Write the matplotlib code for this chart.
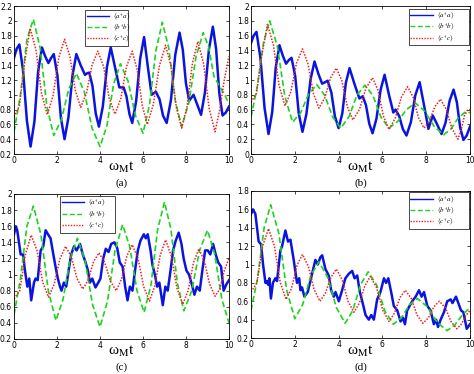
import matplotlib
matplotlib.use("Agg")
import matplotlib.pyplot as plt
from matplotlib.ticker import FixedLocator, FixedFormatter

plt.rcParams['mathtext.fontset'] = 'stix'
plt.rcParams['font.family'] = ['DejaVu Sans']

# ---------------- data ----------------
# panel (a)
a_blue_t = [0, 0.12, 0.25, 0.42, 0.6, 0.77, 0.95, 1.12, 1.3, 1.45, 1.6, 1.73, 1.85, 2.02, 2.18, 2.35,
            2.53, 2.72, 2.9, 3.1, 3.3, 3.4, 3.5, 3.65, 3.8, 3.95, 4.13, 4.32, 4.5, 4.7, 4.9, 5.1,
            5.23, 5.37, 5.5, 5.68, 5.87, 6.05, 6.22, 6.4, 6.6, 6.77, 6.93, 7.1, 7.3, 7.5, 7.7,
            7.85, 8.0, 8.15, 8.35, 8.52, 8.7, 8.88, 9.07, 9.25, 9.4, 9.55, 9.7, 9.85, 10]
a_blue_v = [1.5, 1.62, 1.68, 1.33, 0.65, 0.3, 0.64, 1.31, 1.64, 1.52, 1.43, 1.5, 1.55, 1.26, 0.69, 0.4,
            0.69, 1.26, 1.55, 1.40, 1.27, 1.29, 1.3, 1.12, 0.75, 0.57, 0.84, 1.37, 1.64, 1.37, 1.1, 1.1,
            0.98, 0.74, 0.62, 0.91, 1.49, 1.78, 1.39, 1.0, 1.04, 0.94, 0.72, 0.62, 0.93, 1.54, 1.84,
            1.61, 1.15, 0.92, 1.0, 0.87, 0.73, 1.03, 1.62, 1.92, 1.62, 1.02, 0.72, 0.76, 0.84]
a_green_t = [0, 0.3, 0.6, 0.9, 1.22, 1.53, 1.85, 2.2, 2.55, 2.9, 3.27, 3.63, 4.0, 4.32, 4.63, 4.95,
             5.3, 5.65, 6.0, 6.3, 6.6, 6.9, 7.2, 7.5, 7.8, 8.13, 8.47, 8.8, 9.05, 9.3, 9.55, 9.8, 10]
a_green_v = [0.5, 1.0, 1.75, 2.02, 1.63, 0.84, 0.45, 0.66, 1.08, 1.29, 1.04, 0.55, 0.30, 0.58, 1.14, 1.42,
             1.19, 0.72, 0.48, 0.86, 1.6, 1.98, 1.63, 0.92, 0.57, 0.89, 1.52, 1.84, 1.65, 1.25, 1.12, 1.0, 0.88]
a_red_t = [0, 0.25, 0.5, 0.75, 1.02, 1.28, 1.55, 1.82, 2.08, 2.35, 2.6, 2.85, 3.1, 3.37, 3.63, 3.9,
           4.17, 4.43, 4.7, 4.97, 5.23, 5.5, 5.73, 5.97, 6.2, 6.48, 6.77, 7.05, 7.3, 7.55, 7.8,
           8.05, 8.3, 8.55, 8.82, 9.08, 9.35, 9.57, 9.78, 10]
a_red_v = [0.7, 0.85, 1.45, 1.9, 1.61, 1.02, 0.73, 0.99, 1.50, 1.75, 1.52, 1.06, 0.83, 1.02, 1.40, 1.59,
           1.38, 0.95, 0.74, 0.95, 1.38, 1.59, 1.34, 0.85, 0.6, 0.87, 1.40, 1.67, 1.39, 0.83, 0.55,
           0.84, 1.43, 1.72, 1.42, 0.81, 0.5, 0.8, 1.2, 1.52]

# panel (b)
b_blue_t = [0, 0.12, 0.25, 0.43, 0.62, 0.8, 0.97, 1.13, 1.3, 1.45, 1.6, 1.73, 1.85, 2.02, 2.18, 2.35,
            2.53, 2.72, 2.9, 3.08, 3.25, 3.38, 3.5, 3.67, 3.83, 4.0, 4.17, 4.33, 4.5, 4.72, 4.95, 5.1,
            5.25, 5.4, 5.55, 5.73, 5.92, 6.1, 6.3, 6.5, 6.6, 6.77, 6.93, 7.1, 7.3, 7.5, 7.7, 7.9,
            8.1, 8.3, 8.5, 8.7, 8.88, 9.07, 9.25, 9.4, 9.55, 9.7, 9.85, 10]
b_blue_v = [1.5, 1.6, 1.65, 1.3, 0.62, 0.27, 0.57, 1.17, 1.47, 1.33, 1.22, 1.27, 1.3, 1.05, 0.55, 0.3,
            0.54, 1.01, 1.25, 1.08, 0.95, 0.97, 0.99, 0.83, 0.51, 0.35, 0.55, 0.96, 1.16, 0.95, 0.75, 0.78,
            0.66, 0.41, 0.28, 0.48, 0.87, 1.07, 0.8, 0.56, 0.6, 0.51, 0.34, 0.25, 0.43, 0.79, 0.97, 0.66,
            0.34, 0.52, 0.4, 0.27, 0.42, 0.72, 0.87, 0.7, 0.36, 0.19, 0.25, 0.37]
b_green_t = [0, 0.28, 0.57, 0.85, 1.2, 1.55, 1.9, 2.27, 2.63, 3.0, 3.37, 3.73, 4.1, 4.47, 4.83, 5.2,
             5.57, 5.93, 6.3, 6.7, 7.1, 7.5, 7.93, 8.37, 8.8, 9.13, 9.47, 9.8, 10]
b_green_v = [0.5, 0.9, 1.5, 1.8, 1.46, 0.77, 0.43, 0.56, 0.81, 0.94, 0.79, 0.5, 0.35, 0.5, 0.79, 0.93,
             0.79, 0.5, 0.35, 0.44, 0.6, 0.69, 0.58, 0.37, 0.26, 0.34, 0.49, 0.57, 0.56]
b_red_t = [0, 0.25, 0.5, 0.75, 1.02, 1.28, 1.55, 1.82, 2.08, 2.35, 2.6, 2.85, 3.1, 3.37, 3.63, 3.9,
           4.15, 4.4, 4.65, 4.95, 5.25, 5.55, 5.8, 6.05, 6.3, 6.58, 6.87, 7.15, 7.4, 7.65, 7.9,
           8.15, 8.4, 8.65, 8.92, 9.18, 9.45, 9.6, 9.75, 9.9, 10]
b_red_v = [0.7, 0.82, 1.35, 1.75, 1.48, 0.93, 0.65, 0.84, 1.23, 1.42, 1.22, 0.82, 0.62, 0.76, 1.03, 1.16,
           0.99, 0.64, 0.46, 0.6, 0.89, 1.03, 0.86, 0.51, 0.33, 0.48, 0.77, 0.91, 0.77, 0.49, 0.35,
           0.45, 0.64, 0.74, 0.6, 0.34, 0.2, 0.33, 0.52, 0.6, 0.6]

# panel (c)
c_blue_t = [0, 0.08, 0.15, 0.23, 0.31, 0.42, 0.51, 0.62, 0.71, 0.8, 0.93, 1.0, 1.1, 1.24, 1.36, 1.47,
            1.58, 1.7, 1.83, 1.93, 2.04, 2.14, 2.21, 2.32, 2.43, 2.54, 2.66, 2.79, 2.91, 3.07, 3.2,
            3.33, 3.44, 3.53, 3.64, 3.79, 3.92, 4.02, 4.15, 4.27, 4.4, 4.52, 4.67, 4.8, 4.92, 5.05,
            5.17, 5.28, 5.39, 5.51, 5.63, 5.76, 5.88, 6.04, 6.13, 6.22, 6.35, 6.44, 6.55, 6.66, 6.76,
            6.92, 7.04, 7.15, 7.28, 7.4, 7.52, 7.66, 7.79, 7.89, 8.02, 8.14, 8.27, 8.39, 8.51, 8.64,
            8.76, 8.89, 9.01, 9.13, 9.26, 9.38, 9.5, 9.63, 9.75, 9.88, 10]
c_blue_v = [1.5, 1.6, 1.55, 1.4, 1.25, 1.25, 1.05, 0.85, 0.95, 0.68, 0.9, 0.95, 0.93, 1.3, 1.35, 1.55,
            1.5, 1.45, 1.25, 1.1, 0.95, 0.85, 0.8, 0.9, 0.85, 1.05, 1.25, 1.35, 1.3, 1.38, 1.25,
            1.15, 1.05, 0.9, 0.95, 0.84, 0.9, 0.95, 1.2, 1.32, 1.28, 1.38, 1.4, 1.33, 1.15, 1.1,
            0.85, 0.68, 0.85, 0.8, 1.05, 1.3, 1.42, 1.5, 1.45, 1.5, 1.3, 1.12, 1.0, 0.85, 0.9,
            0.62, 0.85, 0.8, 1.05, 1.3, 1.42, 1.52, 1.38, 1.2, 1.05, 1.0, 0.88, 0.75, 0.85, 0.8,
            1.05, 1.3, 1.3, 1.25, 1.38, 1.25, 1.15, 1.1, 0.8, 0.88, 0.93]
c_green_t = [0, 0.3, 0.6, 0.9, 1.25, 1.6, 1.95, 2.28, 2.62, 2.95, 3.3, 3.65, 4.0, 4.35, 4.7, 5.05,
             5.38, 5.72, 6.05, 6.37, 6.68, 7.0, 7.3, 7.6, 7.9, 8.27, 8.63, 9.0, 9.33, 9.67, 10]
c_green_v = [0.5, 0.95, 1.6, 1.85, 1.5, 0.79, 0.43, 0.69, 1.2, 1.45, 1.18, 0.63, 0.35, 0.67, 1.3, 1.62,
             1.35, 0.8, 0.53, 0.87, 1.56, 1.9, 1.56, 0.89, 0.55, 0.8, 1.3, 1.55, 1.26, 0.69, 0.4]
c_red_t = [0, 0.27, 0.53, 0.8, 1.07, 1.33, 1.6, 1.87, 2.13, 2.4, 2.67, 2.93, 3.2, 3.45, 3.7, 3.95,
           4.22, 4.48, 4.75, 5.0, 5.25, 5.5, 5.77, 6.03, 6.3, 6.55, 6.8, 7.05, 7.32, 7.58, 7.85,
           8.1, 8.35, 8.6, 8.85, 9.1, 9.35, 9.57, 9.78, 10]
c_red_v = [0.7, 0.8, 1.25, 1.49, 1.3, 0.91, 0.72, 0.88, 1.19, 1.35, 1.22, 0.95, 0.82, 0.93, 1.16, 1.27,
           1.15, 0.92, 0.8, 0.94, 1.23, 1.37, 1.2, 0.85, 0.67, 0.86, 1.24, 1.43, 1.23, 0.83, 0.63,
           0.8, 1.15, 1.32, 1.17, 0.88, 0.73, 0.82, 1.05, 1.2]

# panel (d)
d_blue_t = [0, 0.09, 0.2, 0.35, 0.46, 0.55, 0.66, 0.73, 0.78, 0.84, 0.91, 1.0, 1.11, 1.19, 1.34, 1.42,
            1.57, 1.69, 1.8, 1.95, 2.1, 2.2, 2.26, 2.33, 2.44, 2.59, 2.79, 2.94, 3.05, 3.17, 3.25,
            3.4, 3.55, 3.66, 3.78, 3.86, 4.01, 4.16, 4.31, 4.47, 4.62, 4.73, 4.85, 4.97, 5.08, 5.23,
            5.38, 5.49, 5.61, 5.76, 5.91, 6.07, 6.17, 6.27, 6.4, 6.52, 6.68, 6.83, 6.94, 7.03, 7.13,
            7.36, 7.52, 7.67, 7.79, 7.9, 8.05, 8.2, 8.35, 8.45, 8.54, 8.66, 8.81, 8.96, 9.12, 9.2,
            9.36, 9.59, 9.7, 9.85, 10]
d_blue_v = [1.55, 1.6, 1.55, 1.25, 1.22, 1.0, 0.8, 0.82, 0.78, 0.85, 0.63, 0.8, 0.85, 0.82, 1.15, 1.2,
            1.37, 1.25, 1.27, 1.05, 0.8, 0.85, 0.72, 0.75, 0.65, 0.7, 0.9, 1.05, 1.0, 1.08, 1.1,
            0.95, 0.88, 0.72, 0.65, 0.7, 0.6, 0.72, 0.85, 0.9, 0.93, 0.85, 0.88, 0.7, 0.6, 0.45,
            0.4, 0.45, 0.4, 0.62, 0.7, 0.85, 0.8, 0.85, 0.7, 0.55, 0.5, 0.38, 0.42, 0.35, 0.5,
            0.6, 0.65, 0.72, 0.65, 0.7, 0.55, 0.5, 0.35, 0.4, 0.32, 0.4, 0.48, 0.6, 0.62, 0.58,
            0.65, 0.5, 0.48, 0.3, 0.35]
d_green_t = [0, 0.3, 0.6, 0.9, 1.27, 1.63, 2.0, 2.37, 2.73, 3.1, 3.5, 3.9, 4.3, 4.65, 5.0, 5.35,
             5.73, 6.12, 6.5, 6.87, 7.23, 7.6, 8.05, 8.5, 8.95, 9.3, 9.65, 10]
d_green_v = [0.5, 0.85, 1.4, 1.65, 1.34, 0.72, 0.41, 0.57, 0.88, 1.03, 0.86, 0.53, 0.36, 0.5, 0.78, 0.92,
             0.78, 0.49, 0.35, 0.42, 0.56, 0.63, 0.54, 0.37, 0.28, 0.34, 0.45, 0.53]
d_red_t = [0, 0.27, 0.53, 0.8, 1.07, 1.33, 1.6, 1.85, 2.1, 2.35, 2.62, 2.88, 3.15, 3.4, 3.65, 3.9,
           4.17, 4.43, 4.7, 4.95, 5.2, 5.45, 5.73, 6.02, 6.3, 6.55, 6.8, 7.05, 7.32, 7.58, 7.85,
           8.1, 8.35, 8.6, 8.87, 9.13, 9.4, 9.6, 9.8, 10]
d_red_v = [0.7, 0.8, 1.2, 1.39, 1.2, 0.81, 0.62, 0.74, 0.99, 1.11, 0.98, 0.73, 0.6, 0.69, 0.86, 0.95,
           0.83, 0.6, 0.48, 0.58, 0.77, 0.87, 0.75, 0.5, 0.38, 0.47, 0.64, 0.72, 0.63, 0.45, 0.36,
           0.42, 0.54, 0.6, 0.53, 0.38, 0.3, 0.35, 0.44, 0.5]

series_labels = [r'$\langle a^{\dagger}a\rangle$', r'$\langle b^{\dagger}b\rangle$',
                 r'$\langle c^{\dagger}c\rangle$']
panel_names = ['(a)', '(b)', '(c)', '(d)']
x_ticks = [0, 2, 4, 6, 8, 10]
x_tick_labels = ['0', '2', '4', '6', '8', '10']
y_ticks_a = [0.2, 0.4, 0.6, 0.8, 1.0, 1.2, 1.4, 1.6, 1.8, 2.0, 2.2]
y_labels_a = ['0.2', '0.4', '0.6', '0.8', '1', '1.2', '1.4', '1.6', '1.8', '2', '2.2']
y_ticks_b = [0, 0.2, 0.4, 0.6, 0.8, 1.0, 1.2, 1.4, 1.6, 1.8, 2.0]
y_labels_b = ['0', '0.2', '0.4', '0.6', '0.8', '1', '1.2', '1.4', '1.6', '1.8', '2']
y_ticks_c = [0.2, 0.4, 0.6, 0.8, 1.0, 1.2, 1.4, 1.6, 1.8, 2.0]
y_labels_c = ['0.2', '0.4', '0.6', '0.8', '1', '1.2', '1.4', '1.6', '1.8', '2']
y_ticks_d = [0.2, 0.4, 0.6, 0.8, 1.0, 1.2, 1.4, 1.6, 1.8]
y_labels_d = ['0.2', '0.4', '0.6', '0.8', '1', '1.2', '1.4', '1.6', '1.8']

# ---------------- figure ----------------
fig = plt.figure(figsize=(4.74, 3.74), dpi=100)

panels = [
    dict(rect=[14/474, 1-154/374, 215/474, 148/374], ylim=(0.2, 2.2), yt=y_ticks_a, yl=y_labels_a,
         data=[(a_blue_t, a_blue_v), (a_green_t, a_green_v), (a_red_t, a_red_v)],
         leg=(0.33, 0.80, 0.20, 0.175), xl=-0.088, pl=-0.196),
    dict(rect=[251/474, 1-154/374, 219/474, 148/374], ylim=(0.0, 2.0), yt=y_ticks_b, yl=y_labels_b,
         data=[(b_blue_t, b_blue_v), (b_green_t, b_green_v), (b_red_t, b_red_v)],
         leg=(0.72, 0.80, 0.275, 0.18), xl=-0.088, pl=-0.196),
    dict(rect=[14/474, 1-339/374, 215/474, 145/374], ylim=(0.2, 2.0), yt=y_ticks_c, yl=y_labels_c,
         data=[(c_blue_t, c_blue_v), (c_green_t, c_green_v), (c_red_t, c_red_v)],
         leg=(0.214, 0.80, 0.255, 0.185), xl=-0.085, pl=-0.195),
    dict(rect=[251/474, 1-338/374, 219/474, 147/374], ylim=(0.2, 1.8), yt=y_ticks_d, yl=y_labels_d,
         data=[(d_blue_t, d_blue_v), (d_green_t, d_green_v), (d_red_t, d_red_v)],
         leg=(0.72, 0.80, 0.275, 0.19), xl=-0.09, pl=-0.197),
]

styles = [dict(color='#0a14e0', lw=1.8, ls='-'),
          dict(color='#1ed21e', lw=1.2, ls=(0, (3.5, 1.8))),
          dict(color='#ee2020', lw=1.1, ls=(0, (1, 1)))]

for p, name in zip(panels, panel_names):
    ax = fig.add_axes(p['rect'])
    for (t, v), st, lab in zip(p['data'], styles, series_labels):
        ax.plot(t, v, color=st['color'], lw=st['lw'], ls=st['ls'], label=lab)
    ax.set_xlim(0, 10)
    ax.set_ylim(*p['ylim'])
    ax.xaxis.set_major_locator(FixedLocator(x_ticks))
    ax.xaxis.set_major_formatter(FixedFormatter(x_tick_labels))
    ax.yaxis.set_major_locator(FixedLocator(p['yt']))
    ax.yaxis.set_major_formatter(FixedFormatter(p['yl']))
    ax.tick_params(direction='in', length=2, width=0.5, labelsize=5.5, pad=1.5,
                   top=True, right=True)
    for s in ax.spines.values():
        s.set_linewidth(0.6)
    leg = ax.legend(loc='upper left', bbox_to_anchor=p['leg'], mode='expand',
                    fontsize=5, frameon=True, fancybox=False, edgecolor='black',
                    framealpha=1, borderpad=0.25, labelspacing=0.1, handlelength=3.2,
                    handletextpad=0.6, borderaxespad=0)
    leg.get_frame().set_linewidth(0.5)
    for h in leg.get_lines():
        h.set_linewidth(1.0)
    ax.text(0.5, p['xl'], r'ω$_{\mathrm{M}}$t', transform=ax.transAxes, ha='center', va='center',
            fontsize=11, family='Liberation Serif')
    ax.text(0.5, p['pl'], name, transform=ax.transAxes, ha='center', va='center',
            fontsize=8, family='Liberation Serif')

fig.savefig('out.png', dpi=100)
